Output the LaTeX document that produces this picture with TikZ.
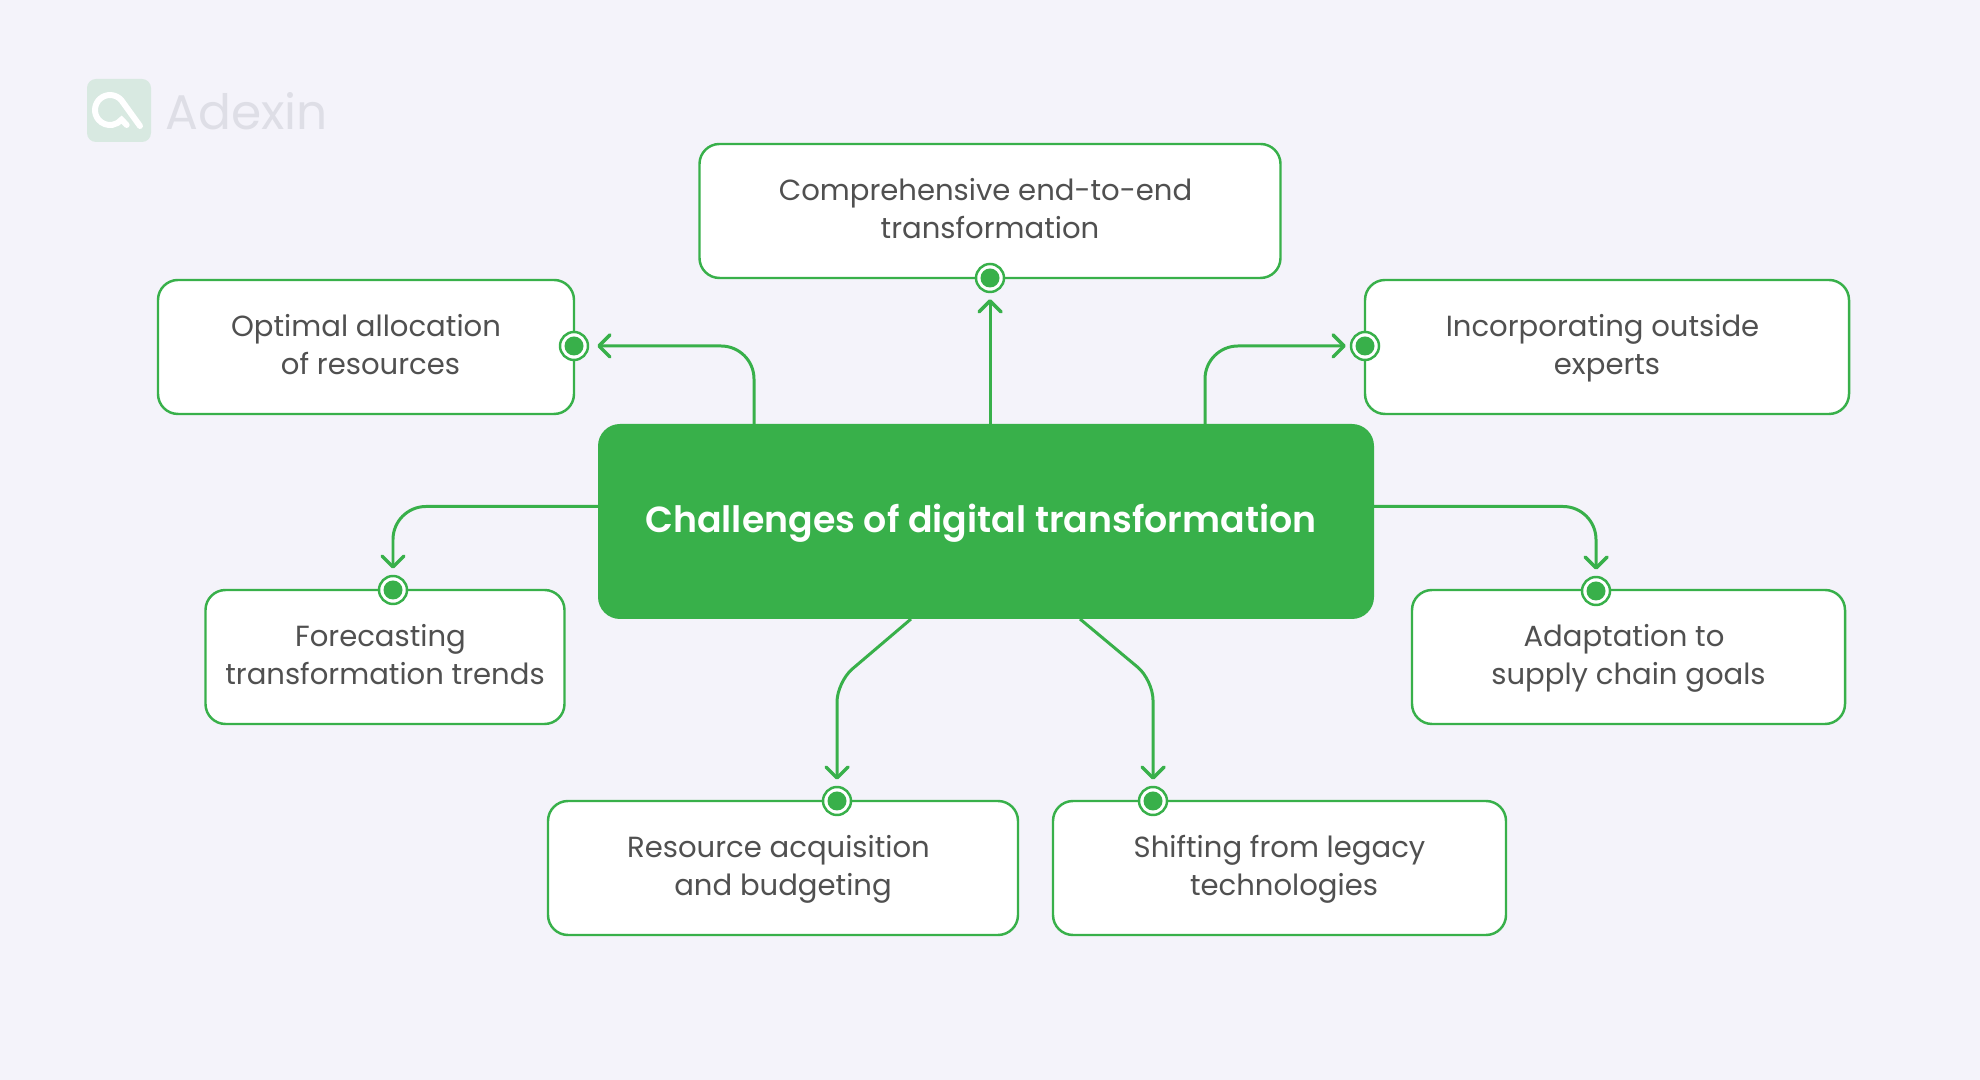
\documentclass[tikz,border=0pt]{standalone}
\usepackage{fontspec}
\setmainfont{Poppins}
\newfontfamily\hubfont{Poppins SemiBold}
\usetikzlibrary{arrows.meta}
\definecolor{adexgreen}{HTML}{38B04A}
\definecolor{pagebg}{HTML}{F4F3FA}
\definecolor{cardtext}{HTML}{505050}
\definecolor{logobg}{HTML}{D8E9E1}
\definecolor{logotext}{HTML}{DEDEE6}
\newcommand{\cardlines}[2]{\rule{0pt}{8.2pt}#1\hspace{0.09cm}\mbox{}\\#2\rule[-3.2pt]{0pt}{3.2pt}}
\newcommand{\cardpad}{\hspace*{0.09cm}}
\tikzset{
    card/.style={draw=adexgreen, line width=0.7pt, fill=white, rounded corners=0.2cm, inner sep=0pt,
        align=center, text=cardtext, font=\fontsize{8.28}{10.8}\selectfont, minimum height=1.34cm},
    hub/.style={fill=adexgreen, rounded corners=0.22cm, inner sep=0pt, minimum width=7.76cm, minimum height=1.95cm},
    ring/.style={circle, draw=adexgreen, line width=0.7pt, fill=white, inner sep=0pt, minimum size=0.28cm},
    pip/.style={circle, fill=adexgreen, inner sep=0pt, minimum size=0.19cm},
    link/.style={draw=adexgreen, line width=0.85pt, rounded corners=0.33cm, shorten >=0.06cm,
        -{Straight Barb[length=0.11cm,width=0.22cm,line width=1pt,round]}},
}
\begin{document}
\begin{tikzpicture}
    \useasboundingbox (0,0) rectangle (19.8,10.8);
    \fill[pagebg] (0,0) rectangle (19.8,10.8);

    % Logo
    \fill[logobg, rounded corners=0.09cm] (0.87,9.38) rectangle (1.51,10.01);
    \draw[white, line width=1.7pt, line cap=round] (1.40,9.54) -- (1.215,9.796) arc (40:320:0.15) -- (1.267,9.55);
    \node[text=logotext, font=\fontsize{13.85}{16}\selectfont, anchor=west, inner sep=0pt] (brand) at (1.65,9.69) {Adexin};

    % Boxes
    \node[card, minimum width=5.81cm] (top) at (9.90,8.69) {\cardlines{Comprehensive end-to-end}{transformation}};
    \node[card, minimum width=4.16cm] (alloc) at (3.66,7.33) {\cardlines{\cardpad Optimal allocation}{\cardpad of resources}};
    \node[card, minimum width=4.84cm] (experts) at (16.07,7.33) {\cardlines{Incorporating outside}{experts}};
    \node[card, minimum width=3.59cm] (trends) at (3.85,4.23) {\cardlines{Forecasting}{transformation trends}};
    \node[card, minimum width=4.33cm] (supply) at (16.285,4.23) {\cardlines{Adaptation to}{supply chain goals}};
    \node[card, minimum width=4.70cm] (budget) at (7.83,2.12) {\cardlines{Resource acquisition}{and budgeting}};
    \node[card, minimum width=4.53cm] (legacy) at (12.795,2.12) {\cardlines{\cardpad Shifting from legacy}{\cardpad technologies}};

    % Centre
    \node[hub] (center) at (9.86,5.585) {};
    \node[text=white, font=\fontsize{10.33}{14}\hubfont, inner sep=0pt] (title) at (9.81,5.57) {Challenges of digital transformation};

    % Dots
    \foreach \name/\x/\y in {dtop/9.90/8.02, dalloc/5.74/7.34, dexperts/13.65/7.34, dtrends/3.93/4.90, dsupply/15.96/4.89, dbudget/8.37/2.79, dlegacy/11.53/2.79} {
        \node[ring] (\name) at (\x,\y) {};
        \node[pip] (\name pip) at (\x,\y) {};
    }

    % Connector starts
    \coordinate (s1) at (9.90,6.56);
    \coordinate (s2) at (7.54,6.56);
    \coordinate (s3) at (12.05,6.56);
    \coordinate (s4) at (5.985,5.735);
    \coordinate (s5) at (13.74,5.735);
    \coordinate (s6) at (9.11,4.61);
    \coordinate (s7) at (10.80,4.61);
    \coordinate (k6) at (8.37,3.98);
    \coordinate (k7) at (11.53,4.00);

    % Connectors
    \draw[link] (s1) -- (dtop);
    \draw[link, shorten >=0.08cm] (s2) |- (dalloc);
    \draw[link, shorten >=0.04cm] (s3) |- (dexperts);
    \draw[link] (s4) -| (dtrends);
    \draw[link] (s5) -| (dsupply);
    \draw[link, rounded corners=0.2cm] (s6) -- (k6) -- (dbudget);
    \draw[link, rounded corners=0.2cm] (s7) -- (k7) -- (dlegacy);
\end{tikzpicture}
\end{document}
